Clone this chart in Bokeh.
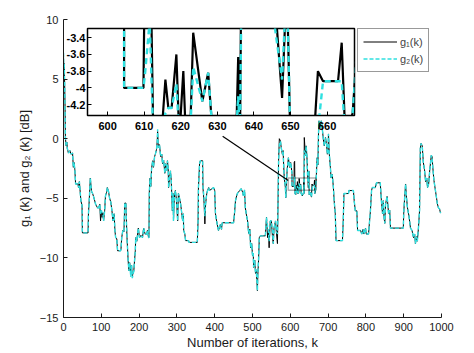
from bokeh.plotting import figure
from bokeh.models import (Range1d, FixedTicker, Legend, LegendItem,
                          BoxAnnotation, PrintfTickFormatter)
from bokeh.embed import file_html
from bokeh.resources import INLINE

# ---------------- data ----------------
g1_points = [
    (0, 7.2), (1, 5.0), (2, 6.3), (4, 3.0), (5, 0.1), (7, -0.6), (9, -0.3), (10, -0.8),
    (13, -1.2), (17, -1.0), (20, -1.3), (24, -1.2), (26, -2.4), (28, -2.0), (30, -2.6),
    (32, -3.8), (38, -3.8), (40, -4.1), (42, -3.6), (44, -4.4), (46, -5.2), (49, -5.6),
    (50, -7.9), (65, -7.9), (66, -6.3), (68, -5.2), (71, -3.3), (74, -4.4), (77, -4.6),
    (80, -4.9), (85, -5.5), (90, -5.8), (93, -5.8), (96, -5.5), (98, -6.9), (100, -6.0),
    (102, -6.6), (104, -6.2), (106, -6.9), (109, -6.0), (111, -4.8), (114, -4.5),
    (116, -4.1), (119, -4.4), (122, -5.0), (125, -5.3), (128, -6.0), (131, -6.9),
    (134, -6.3), (136, -7.7), (138, -8.3), (141, -8.4), (143, -9.4), (151, -9.4),
    (152, -9.3), (154, -8.3), (157, -7.7), (160, -7.8), (162, -5.4), (165, -5.4),
    (166, -6.5), (168, -8.3), (171, -10.2), (173, -11.1), (175, -10.4), (178, -11.1),
    (180, -10.6), (182, -11.5), (186, -11.1), (188, -10.2), (190, -9.4), (191, -8.3),
    (194, -8.6), (196, -8.0), (198, -7.5), (201, -8.3), (205, -8.1), (209, -8.3),
    (212, -7.5), (216, -8.0), (220, -8.0), (222, -7.7), (225, -8.3), (226, -8.3),
    (227, -4.5), (229, -3.3), (231, -4.0), (233, -2.5), (236, -1.85), (238, -2.4),
    (241, -1.5), (243, -1.3), (246, -0.9), (248, -0.2), (249, 0.6), (251, -0.75),
    (254, -0.5), (257, -1.5), (260, -1.3), (262, -2.1), (265, -1.8), (268, -2.9),
    (270, -2.1), (273, -2.7), (275, -1.85), (277, -2.5), (278, -4.1), (280, -3.5),
    (283, -2.7), (285, -3.5), (288, -6.05), (290, -4.6), (291, -6.9), (293, -5.0),
    (296, -4.35), (299, -5.2), (302, -6.9), (304, -4.6), (307, -5.0), (310, -5.5),
    (313, -6.3), (315, -6.9), (317, -6.3), (318, -7.7), (321, -8.0), (323, -8.55),
    (331, -8.55), (332, -8.7), (354, -8.7), (356, -6.9), (357, -4.1), (360, -2.1),
    (362, -1.85), (368, -1.85), (369, -4.1), (372, -5.45), (374, -7.15), (376, -5.45),
    (379, -4.6), (381, -4.35), (384, -4.1), (386, -4.35), (397, -4.1), (400, -4.35),
    (402, -6.3), (405, -6.9), (410, -7.7), (415, -7.2), (418, -7.6), (420, -7.05),
    (450, -7.05), (453, -6.05), (455, -5.2), (458, -4.8), (460, -4.6), (466, -4.35),
    (470, -4.2), (474, -4.5), (476, -4.8), (479, -4.3), (481, -5.8), (484, -6.4),
    (487, -6.9), (490, -8.0), (493, -7.6), (495, -9.15), (498, -8.8), (500, -9.8),
    (502, -9.6), (503, -10.8), (506, -10.2), (508, -11.3), (510, -11.0), (513, -12.75),
    (514, -11.5), (516, -10.2), (518, -8.3), (521, -8.15), (534, -8.15), (537, -6.6),
    (540, -8.3), (542, -7.7), (544, -9.15), (547, -6.9), (550, -6.9), (553, -8.3),
    (555, -8.8), (557, -7.5), (561, -6.9), (563, -7.8), (566, -8.8), (567, -6.6),
    (569, -1.85), (571, 0.0), (574, -0.2), (576, -0.75), (579, -1.3), (581, -1.0),
    (582, -1.85), (584, -3.3), (587, -4.1), (588, -4.95), (590, -3.5), (592, -2.5),
    (595, -1.6), (598, -2.4), (601, -2.0), (604.5, -2.9), (604.5, -4.0), (609.8, -4.0),
    (610.3, -2.0), (611.5, -1.9), (612.5, -4.6), (614.5, -4.7), (615.8, -3.9),
    (616.6, -4.24), (617.5, -4.24), (618.8, -3.6), (619.6, -4.6), (620.7, -3.8),
    (621.4, -4.6), (622.6, -4.5), (623.4, -3.34), (625.9, -4.16), (627.5, -3.82),
    (628.8, -4.6), (632, -4.8), (635.2, -4.5), (635.7, -3.63), (636.2, -4.6),
    (637, 0.1), (640, -1.4), (642, -0.6), (644, -1.5), (645.8, -3.0), (647.7, -4.12),
    (649, -2.7), (650, -4.7), (653, -4.5), (656, -4.9), (657.5, -3.8), (658.9, -3.92),
    (663, -3.92), (664, -3.46), (665, -4.6), (667, -4.3), (669, -3.0), (671, -1.6),
    (673, -2.2), (674.6, 0.4), (676, 1.5), (679, 0.9), (682, 1.5), (685, 0.7),
    (688, -0.2), (690, -0.6), (693, 0.1), (696, -0.5), (698, -1.3), (700, -1.0),
    (701, 0.4), (703, -1.2), (706, -2.4), (708, -3.3), (711, -3.0), (714, -4.1),
    (716, -5.2), (719, -6.3), (721, -8.55), (738, -8.55), (740, -6.9), (742, -4.6),
    (754, -4.6), (755, -4.35), (767, -4.35), (769, -5.2), (772, -6.05), (776, -6.05),
    (778, -7.7), (786, -7.7), (789, -8.0), (792, -7.6), (795, -8.0), (799, -7.5),
    (801, -8.0), (807, -8.0), (810, -6.8), (812, -6.05), (815, -4.35), (817, -4.1),
    (825, -4.1), (828, -3.7), (838, -3.7), (841, -5.2), (844, -6.3), (846, -5.2),
    (848, -6.6), (850, -7.1), (852, -5.5), (856, -4.85), (858, -5.5), (860, -6.3),
    (863, -6.0), (865, -7.5), (899, -7.5), (900, -6.3), (902, -5.2), (905, -3.8),
    (907, -4.8), (910, -5.8), (914, -6.5), (918, -7.5), (922, -7.7), (926, -8.3),
    (929, -8.0), (931, -8.8), (934, -8.2), (936, -8.6), (939, -7.5), (942, -6.0),
    (944, -0.8), (946, -0.4), (949, -0.6), (952, -2.0), (955, -2.6), (958, -3.6),
    (961, -3.3), (963, -4.1), (966, -3.8), (969, -2.6), (973, -1.4), (975, -1.5),
    (977, -2.4), (980, -3.5), (984, -4.35), (987, -5.0), (989, -5.45), (992, -5.8),
    (995, -5.9), (997, -6.2), (999, -6.2),
]
# points where g2 differs from g1 (iteration -> dB)
g2_differences = {
    98: -6.3, 102: -6.2, 178: -11.6, 182: -11.7, 249: 0.8, 372: -5.0, 374: -6.5,
    540: -7.4, 544: -8.6, 553: -7.8, 566: -8.0, 571: -0.5,
    610.3: -3.8, 611.5: -3.2, 615.8: -4.3, 618.8: -3.95, 620.7: -4.35, 623.4: -3.75,
    635.7: -4.1, 637: -1.0, 645.8: -3.3, 647.7: -3.9, 657.5: -4.5, 664: -3.92,
}

iterations = [k for k, _ in g1_points]
g1_db = [v for _, v in g1_points]
g2_db = [g2_differences.get(k, v) for k, v in g1_points]

x_ticks = [0, 100, 200, 300, 400, 500, 600, 700, 800, 900, 1000]
y_ticks = [-15, -10, -5, 0, 5, 10]
inset_x_ticks = [600, 610, 620, 630, 640, 650, 660]
inset_y_ticks = [-4.2, -4.0, -3.8, -3.6, -3.4]
inset_x_range = (594.5, 667.5)
inset_y_range = (-4.33, -3.29)
pointer_k = [421, 594.5]
pointer_db = [0.2, -3.5]

FONT = "Liberation Sans"
AX = "#1a1a1a"
CYAN = "#2fe0e0"
W, H = 474, 353

# ---------------- main figure ----------------
p = figure(width=W, height=H, x_range=Range1d(0, 1000), y_range=Range1d(-15, 10),
           output_backend="svg", toolbar_location=None,
           min_border_left=63, min_border_right=33, min_border_top=19, min_border_bottom=36,
           styles={"position": "absolute", "left": "0px", "top": "0px"})
p.outline_line_color = None
p.grid.visible = False
p.background_fill_color = "white"
p.border_fill_color = "white"

for ax in (p.xaxis[0], p.yaxis[0]):
    ax.major_tick_in = 4
    ax.major_tick_out = 0
    ax.minor_tick_line_color = None
    ax.axis_line_color = AX
    ax.major_tick_line_color = AX
    ax.major_label_text_font = FONT
    ax.major_label_text_font_size = "11px"
    ax.major_label_text_color = AX
    ax.axis_label_text_font = FONT
    ax.axis_label_text_font_size = "13px"
    ax.axis_label_text_font_style = "normal"
    ax.axis_label_text_color = AX

p.xaxis.ticker = FixedTicker(ticks=x_ticks)
p.yaxis.ticker = FixedTicker(ticks=y_ticks)
p.xaxis.major_label_standoff = 5
p.yaxis.major_label_standoff = 5
p.xaxis.axis_label = "Number of iterations, k"
p.yaxis.axis_label = "g\u2081 (k) and g\u2082 (k) [dB]"
p.xaxis.axis_label_standoff = 1
p.yaxis.axis_label_standoff = 5

r1 = p.line(iterations, g1_db, line_color="black", line_width=1.0)
r2 = p.line(iterations, g2_db, line_color=CYAN, line_width=1.4, line_dash="4 2")

p.add_layout(BoxAnnotation(left=inset_x_range[0], right=inset_x_range[1],
                           bottom=inset_y_range[0], top=inset_y_range[1],
                           fill_alpha=0, line_color="black", line_width=1.5))
p.line(pointer_k, pointer_db, line_color="black", line_width=1.2)

legend = Legend(items=[LegendItem(label="g\u2081(k)", renderers=[r1]),
                       LegendItem(label="g\u2082(k)", renderers=[r2])],
                location=(294, 245), padding=5, spacing=2, margin=0,
                glyph_width=34, glyph_height=15, label_height=15, label_standoff=3,
                label_text_font=FONT, label_text_font_size="11px",
                border_line_color="#333333", border_line_width=1,
                background_fill_color="white", background_fill_alpha=1)
p.add_layout(legend)

# ---------------- inset figure (same size, transparent borders, overlaid) ----------------
inset = figure(width=W, height=H, x_range=Range1d(*inset_x_range),
               y_range=Range1d(*inset_y_range), output_backend="svg",
               toolbar_location=None, min_border_left=87, min_border_right=W - 354,
               min_border_top=28, min_border_bottom=H - 115,
               styles={"position": "absolute", "left": "0px", "top": "0px"})
inset.grid.visible = False
inset.outline_line_color = "black"
inset.outline_line_width = 1.5
inset.background_fill_color = "white"
inset.border_fill_alpha = 0
inset.border_fill_color = None

for ax in inset.xaxis + inset.yaxis:
    ax.major_tick_in = 4
    ax.major_tick_out = 0
    ax.minor_tick_line_color = None
    ax.axis_line_color = "black"
    ax.major_tick_line_color = "black"
    ax.major_label_text_font = FONT
    ax.major_label_text_font_size = "11px"
    ax.major_label_text_font_style = "bold"
    ax.major_label_text_color = "black"
inset.xaxis.ticker = FixedTicker(ticks=inset_x_ticks)
inset.xaxis.major_label_standoff = 6
inset.yaxis.ticker = FixedTicker(ticks=inset_y_ticks)
inset.yaxis.formatter = PrintfTickFormatter(format="%g")
inset.yaxis.major_label_standoff = 2

inset.line(iterations, g1_db, line_color="black", line_width=2.2)
inset.line(iterations, g2_db, line_color=CYAN, line_width=2.4, line_dash="6 4")

open("out.html", "w").write(file_html([p, inset], INLINE))
